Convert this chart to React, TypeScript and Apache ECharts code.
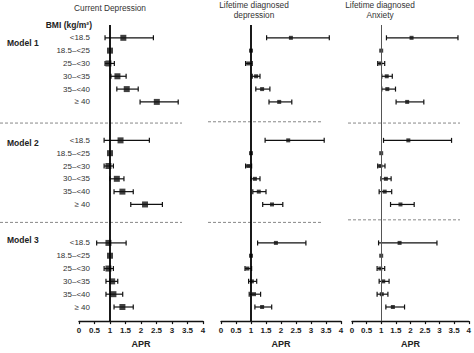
import React, { useEffect, useRef } from "react";
import * as echarts from "echarts";

const bmiRows = ["<18.5", "18.5–<25", "25–<30", "30–<35", "35–<40", "≥ 40"];
const models = ["Model 1", "Model 2", "Model 3"];
const panelTitles = ["Current Depression", "Lifetime diagnosed\ndepression", "Lifetime diagnosed\nAnxiety"];
const xTicks = [0, 0.5, 1, 1.5, 2, 2.5, 3, 3.5, 4];

// Current Depression
const curEst = [
  [1.43, 1, 0.95, 1.24, 1.54, 2.51],
  [1.34, 1, 0.95, 1.22, 1.40, 2.13],
  [0.95, 1, 0.95, 1.07, 1.11, 1.40],
];
const curLo = [
  [0.84, 1, 0.84, 1.03, 1.22, 1.97],
  [0.81, 1, 0.81, 1.00, 1.13, 1.67],
  [0.57, 1, 0.81, 0.87, 0.87, 1.13],
];
const curHi = [
  [2.40, 1, 1.14, 1.52, 1.91, 3.20],
  [2.27, 1, 1.11, 1.45, 1.75, 2.69],
  [1.52, 1, 1.11, 1.25, 1.41, 1.75],
];
// Lifetime diagnosed depression
const depEst = [
  [2.33, 1, 0.91, 1.17, 1.37, 1.94],
  [2.24, 1, 0.91, 1.13, 1.26, 1.70],
  [1.83, 1, 0.88, 1.03, 1.10, 1.37],
];
const depLo = [
  [1.52, 1, 0.82, 1.04, 1.16, 1.60],
  [1.47, 1, 0.82, 1.00, 1.06, 1.39],
  [1.22, 1, 0.80, 0.92, 0.94, 1.13],
];
const depHi = [
  [3.61, 1, 1.04, 1.30, 1.63, 2.36],
  [3.44, 1, 1.02, 1.30, 1.50, 2.06],
  [2.83, 1, 1.02, 1.19, 1.32, 1.69],
];
// Lifetime diagnosed anxiety
const anxEst = [
  [2.04, 1, 0.97, 1.19, 1.21, 1.89],
  [1.93, 1, 0.97, 1.16, 1.12, 1.66],
  [1.63, 1, 0.97, 1.07, 1.02, 1.40],
];
const anxLo = [
  [1.18, 1, 0.88, 1.02, 1.02, 1.51],
  [1.08, 1, 0.88, 0.99, 0.93, 1.32],
  [0.91, 1, 0.86, 0.93, 0.86, 1.16],
];
const anxHi = [
  [3.63, 1, 1.12, 1.38, 1.49, 2.46],
  [3.41, 1, 1.13, 1.34, 1.36, 2.13],
  [2.91, 1, 1.12, 1.27, 1.23, 1.80],
];

const FONT = "'Liberation Sans', Arial, Helvetica, sans-serif";
const ROWS_PER_BLOCK = 8;

const panels = [
  { est: curEst, lo: curLo, hi: curHi, left: 79, width: 124, sym: 6, cap: 5, ref: { color: "#000", width: 1.8 }, sep: [[0, 182], [0, 182]], sepY: [6.65, 14.4] },
  { est: depEst, lo: depLo, hi: depHi, left: 221, width: 120, sym: 4, cap: 5, ref: { color: "#000", width: 1.8 }, sep: [[208, 321], [208, 321]], sepY: [6.55, 14.4] },
  { est: anxEst, lo: anxLo, hi: anxHi, left: 352, width: 120, sym: 4, cap: 5, ref: { color: "#555", width: 1 }, sep: [[348, 460], [348, 460]], sepY: [6.65, 14.2] },
];

const rowIndex = (m: number, r: number) => m * ROWS_PER_BLOCK + r;

export default function App() {
  const ref = useRef<HTMLDivElement>(null);
  useEffect(() => {
    if (!ref.current) return;
    const chart = echarts.init(ref.current, undefined, { renderer: "svg" });

    const grids: any[] = [];
    const xAxes: any[] = [];
    const yAxes: any[] = [];
    const series: any[] = [];

    panels.forEach((p, k) => {
      grids.push({ left: p.left, width: p.width, top: 25, bottom: 26, containLabel: false });
      xAxes.push({
        gridIndex: k,
        type: "value",
        position: "bottom",
        min: 0,
        max: 4,
        interval: 0.5,
        name: "APR",
        nameLocation: "middle",
        nameGap: 17,
        nameTextStyle: { fontFamily: FONT, fontSize: 9, fontWeight: "bold", color: "#222" },
        axisLine: { show: true, onZero: false, lineStyle: { color: "#111", width: 1.3 } },
        axisTick: { show: true, length: 3, lineStyle: { color: "#111", width: 1.2 } },
        axisLabel: {
          fontFamily: FONT,
          fontSize: 8,
          fontWeight: "bold",
          color: "#222",
          margin: 5,
          formatter: (v: number) => (xTicks.includes(v) ? String(v) : ""),
        },
        splitLine: { show: false },
      });
      yAxes.push({
        gridIndex: k,
        type: "value",
        position: "left",
        inverse: true,
        min: -1,
        max: 22.1,
        interval: 1,
        show: k === 0,
        offset: -13,
        axisLine: { show: false, onZero: false },
        axisTick: { show: false },
        splitLine: { show: false },
        axisLabel: {
          show: k === 0,
          margin: 2,
          align: "right",
          fontFamily: FONT,
          fontSize: 8,
          color: "#333",
          showMinLabel: false,
          showMaxLabel: false,
          formatter: (v: number) => {
            if (v < 0 || Math.round(v) !== v) return "";
            const r = v % ROWS_PER_BLOCK;
            const m = Math.floor(v / ROWS_PER_BLOCK);
            return m < models.length && r < bmiRows.length ? bmiRows[r] : "";
          },
        },
      });

      const barData: any[] = [];
      const ptData: any[] = [];
      models.forEach((_, m) => {
        bmiRows.forEach((_, r) => {
          const i = rowIndex(m, r);
          if (p.lo[m][r] !== p.hi[m][r]) barData.push([p.lo[m][r], p.hi[m][r], i]);
          ptData.push([p.est[m][r], i]);
        });
      });

      const cap = p.cap;
      series.push({
        type: "custom",
        xAxisIndex: k,
        yAxisIndex: k,
        encode: { x: [0, 1], y: 2 },
        data: barData,
        z: 3,
        renderItem: (_params: any, api: any) => {
          const a = api.coord([api.value(0), api.value(2)]);
          const b = api.coord([api.value(1), api.value(2)]);
          const st = { stroke: "#111", lineWidth: 1.2 };
          const h = cap / 2;
          return {
            type: "group",
            children: [
              { type: "line", shape: { x1: a[0], y1: a[1], x2: b[0], y2: b[1] }, style: st },
              { type: "line", shape: { x1: a[0], y1: a[1] - h, x2: a[0], y2: a[1] + h }, style: st },
              { type: "line", shape: { x1: b[0], y1: b[1] - h, x2: b[0], y2: b[1] + h }, style: st },
            ],
          };
        },
      });
      series.push({
        type: "scatter",
        xAxisIndex: k,
        yAxisIndex: k,
        data: ptData,
        symbol: "rect",
        symbolSize: p.sym,
        itemStyle: { color: "#111" },
        z: 4,
        markLine: {
          silent: true,
          symbol: "none",
          label: { show: false },
          lineStyle: { color: p.ref.color, width: p.ref.width, type: "solid" },
          data: [{ xAxis: 1 }],
        },
      });
    });

    const graphic: any[] = [
      {
        type: "text",
        x: 110,
        y: 8,
        style: { text: panelTitles[0], font: `8.3px ${FONT}`, fill: "#333", align: "center", verticalAlign: "middle" },
      },
      {
        type: "text",
        x: 254,
        y: 0,
        style: { text: panelTitles[1], font: `8.3px ${FONT}`, fill: "#333", align: "center", verticalAlign: "top", lineHeight: 10 },
      },
      {
        type: "text",
        x: 380,
        y: 0,
        style: { text: panelTitles[2], font: `8.3px ${FONT}`, fill: "#333", align: "center", verticalAlign: "top", lineHeight: 10 },
      },
      {
        type: "text",
        x: 92,
        y: 25,
        style: { text: "BMI (kg/m²)", font: `bold 8.5px ${FONT}`, fill: "#222", align: "right", verticalAlign: "middle" },
      },
    ];
    const modelY = [43, 143, 240];
    models.forEach((m, idx) => {
      graphic.push({
        type: "text",
        x: 7,
        y: modelY[idx],
        style: { text: m, font: `bold 8.5px ${FONT}`, fill: "#222", align: "left", verticalAlign: "middle" },
      });
    });

    chart.setOption({
      animation: false,
      grid: grids,
      xAxis: xAxes,
      yAxis: yAxes,
      series,
      graphic,
    });

    panels.forEach((p, k) => {
      p.sepY.forEach((sy, j) => {
        const py = chart.convertToPixel({ yAxisIndex: k } as any, sy) as number;
        graphic.push({
          type: "line",
          shape: { x1: p.sep[j][0], y1: py, x2: p.sep[j][1], y2: py },
          style: { stroke: "#888", lineWidth: 1, lineDash: [3, 2] },
          z: 1,
        });
      });
    });
    chart.setOption({ graphic });

    return () => chart.dispose();
  }, []);
  return <div ref={ref} style={{ position: "absolute", left: 0, top: 0, width: 474, height: 353 }} />;
}
